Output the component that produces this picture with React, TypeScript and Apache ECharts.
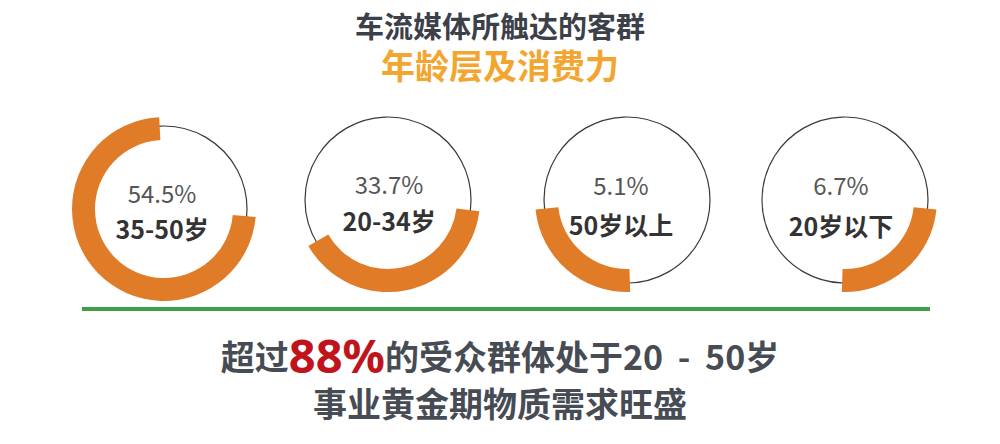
import React, { useEffect, useRef } from "react";
import * as echarts from "echarts";

// ---- data ----
const titleLine1 = "车流媒体所触达的客群";
const titleLine2 = "年龄层及消费力";
const percentLabels = ["54.5%", "33.7%", "5.1%", "6.7%"];
const ageLabels = ["35-50岁", "20-34岁", "50岁以上", "20岁以下"];
const arcSpans = [262, 143, 86, 86];
const arcStartAngles = [-5, -7, -88, -6];
const summaryPrefix = "超过";
const summaryHighlight = "88%";
const summaryMid = "的受众群体处于20";
const summaryDash = " - ";
const summaryEnd = "50岁";
const summaryLine2 = "事业黄金期物质需求旺盛";

// ---- layout ----
const centers: [number, number][] = [
  [164, 209],
  [388, 200],
  [627, 200],
  [845, 200],
];
const pctY = [192, 183, 184, 184];
const ageY = [228, 220, 224, 225];
const textX = [162, 389, 621, 841];

const ORANGE = "#E07C28";

export default function App() {
  const ref = useRef<HTMLDivElement>(null);
  useEffect(() => {
    document.body.style.margin = "0";
    const chart = echarts.init(ref.current!, undefined, { renderer: "svg" });
    const series: any[] = arcSpans.map((span, i) => ({
      type: "pie",
      center: centers[i],
      radius: [69, 92],
      startAngle: arcStartAngles[i],
      clockwise: true,
      silent: true,
      z: 3,
      label: { show: false },
      labelLine: { show: false },
      emphasis: { disabled: true },
      data: [
        { value: span, name: ageLabels[i], itemStyle: { color: ORANGE } },
        { value: 360 - span, name: "rest", itemStyle: { color: "rgba(0,0,0,0)" } },
      ],
    }));

    const graphics: any[] = [];
    centers.forEach((c, i) => {
      graphics.push({
        type: "circle",
        z: 1,
        shape: { cx: c[0], cy: c[1], r: 83 },
        style: { fill: "none", stroke: "#3a3a3a", lineWidth: 1.2 },
        silent: true,
      });
      graphics.push({
        type: "text",
        z: 10,
        x: textX[i],
        y: pctY[i],
        style: {
          text: percentLabels[i],
          fill: "#555555",
          font: '24px "Noto Sans CJK SC", "Noto Sans", sans-serif',
          lineHeight: 26,
          textAlign: "center",
          textVerticalAlign: "middle",
        },
      });
      graphics.push({
        type: "text",
        z: 10,
        x: textX[i],
        y: ageY[i],
        style: {
          text: ageLabels[i],
          fill: "#333333",
          font: 'bold 25px "Noto Sans CJK SC", "Noto Sans", sans-serif',
          lineHeight: 27,
          textAlign: "center",
          textVerticalAlign: "middle",
        },
      });
    });

    graphics.push(
      {
        type: "text",
        x: 500,
        y: 25,
        style: {
          text: titleLine1,
          fill: "#3c4049",
          font: 'bold 29px "Noto Sans CJK SC", sans-serif',
          lineHeight: 30,
          textAlign: "center",
          textVerticalAlign: "middle",
        },
      },
      {
        type: "text",
        x: 500,
        y: 64,
        style: {
          text: titleLine2,
          fill: "#F2A630",
          font: 'bold 34px "Noto Sans CJK SC", sans-serif',
          lineHeight: 36,
          textAlign: "center",
          textVerticalAlign: "middle",
        },
      },
      {
        type: "rect",
        shape: { x: 82, y: 307, width: 848, height: 4 },
        style: { fill: "#3E9E4A" },
      },
      {
        type: "text",
        x: 500,
        y: 355,
        style: {
          text: `{a|${summaryPrefix}}{b|${summaryHighlight}}{a|${summaryMid}}{c|${summaryDash}}{a|${summaryEnd}}`,
          textAlign: "center",
          textVerticalAlign: "middle",
          rich: {
            a: {
              fill: "#474c54",
              fontSize: 34,
              lineHeight: 36,
              fontWeight: "bold",
              fontFamily: '"Noto Sans CJK SC", sans-serif',
            },
            c: {
              fill: "#474c54",
              fontSize: 34,
              lineHeight: 36,
              padding: [0, 7],
              fontWeight: "bold",
              fontFamily: '"Noto Sans CJK SC", sans-serif',
            },
            b: {
              fill: "#C0141C",
              fontSize: 47,
              lineHeight: 40,
              fontWeight: "bold",
              fontFamily: '"Noto Sans", "Noto Sans CJK SC", sans-serif',
            },
          },
        },
      },
      {
        type: "text",
        x: 500,
        y: 402,
        style: {
          text: summaryLine2,
          fill: "#474c54",
          font: 'bold 34px "Noto Sans CJK SC", sans-serif',
          lineHeight: 36,
          textAlign: "center",
          textVerticalAlign: "middle",
        },
      }
    );

    chart.setOption({
      animation: false,
      backgroundColor: "#ffffff",
      series,
      graphic: graphics,
    });
    return () => chart.dispose();
  }, []);
  return <div ref={ref} style={{ width: 1000, height: 444 }} />;
}
